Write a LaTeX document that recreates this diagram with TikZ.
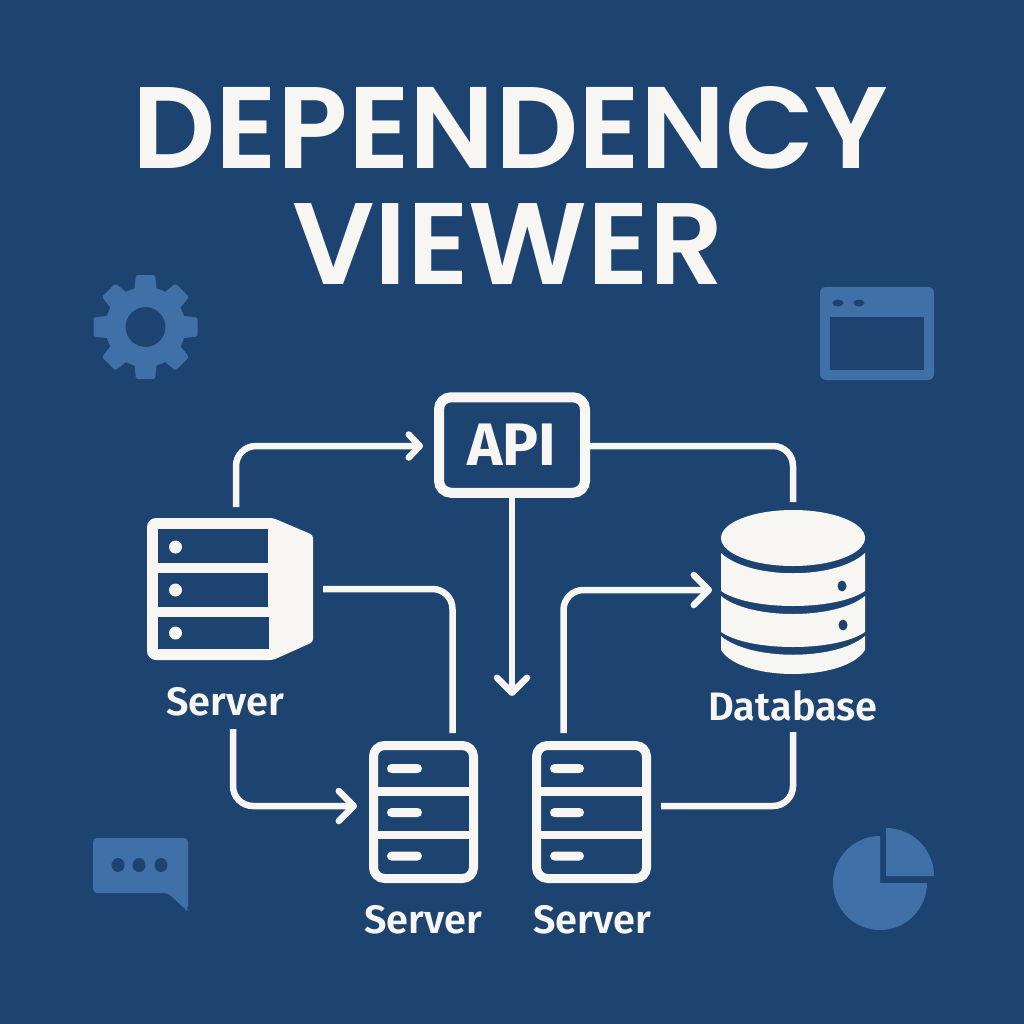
\documentclass[tikz,border=0pt]{standalone}
\usepackage{fontspec}
\usetikzlibrary{arrows.meta}
\newfontfamily\titlefont{Poppins SemiBold}
\newfontfamily\labelfont{Fira Sans SemiBold}
\newfontfamily\apifont{Fira Sans Bold}
\definecolor{bgblue}{HTML}{1D4370}
\definecolor{ink}{HTML}{F8F6F2}
\definecolor{icon}{HTML}{3F70A8}
\tikzset{
  wire/.style={draw=ink,line width=6.5pt,rounded corners=20pt,line cap=butt},
  tip/.style={-{Straight Barb[length=15pt,width=30pt,line width=6.5pt,round]}},
  tipsmall/.style={-{Straight Barb[length=11pt,width=23pt,line width=6.5pt,round]}},
  hit/.style={inner sep=0pt,outer sep=0pt,rectangle},
  lbl/.style={text=ink,font=\labelfont\fontsize{39.7}{40}\selectfont,inner sep=0pt,outer sep=0pt,text height=28pt,text depth=0pt},
  ttl/.style={text=ink,font=\titlefont\fontsize{116}{116}\selectfont,inner sep=0pt},
  pill/.style={fill=ink,rounded corners=4.5pt},
  slot/.style={fill=bgblue},
}
\begin{document}
\begin{tikzpicture}[x=1pt,y=1pt,yscale=-1]
\useasboundingbox (0,0) rectangle (1024,1024);
\fill[bgblue] (0,0) rectangle (1024,1024);
% title
\node[ttl] (t1) at (510.5,128) {DEPENDENCY};
\node[ttl] (t2) at (508,244) {VIEWER};
% gear
\begin{scope}[shift={(145.5,327)}]
  \foreach \a in {0,45,...,315}{
    \fill[icon,rotate=\a,rounded corners=1.5pt] (-12,-30) -- (-9.5,-52) -- (9.5,-52) -- (12,-30) -- cycle;
  }
  \fill[icon,even odd rule] (0,0) circle[radius=40pt] (0,0) circle[radius=20pt];
\end{scope}
% window
\fill[icon,rounded corners=6pt] (820,287) rectangle (934,380);
\fill[bgblue] (830,317) rectangle (924,370);
\fill[bgblue] (838,303) ellipse[x radius=5.5pt,y radius=3.5pt];
\fill[bgblue] (859,303) ellipse[x radius=5.5pt,y radius=3.5pt];
% chat
\fill[icon,rounded corners=4pt] (93,838) -- (188,838) -- (188,910) -- (186,910) -- (168,893) -- (93,893) -- cycle;
\foreach \x in {118,139,161}{\fill[bgblue] (\x,865) ellipse[x radius=6.5pt,y radius=7pt];}
% pie
\fill[icon] (880,883) -- (880,836) arc[start angle=-90,end angle=-360,radius=47pt] -- cycle;
\fill[icon] (886,876) -- (886,828) arc[start angle=-90,end angle=0,radius=48pt] -- cycle;
% API
\node[draw=ink,line width=10pt,rounded corners=12pt,minimum width=146pt,minimum height=95.5pt,inner sep=0pt,outer sep=5pt,text=ink,font=\apifont\fontsize{60}{60}\selectfont] (api) at (512,445) {API};
% server 1
\node[hit,minimum width=172pt,minimum height=142pt] (srv1) at (233,589) {};
\fill[ink,rounded corners=9pt] (147,589) -- (147,518) [rounded corners=3pt] -- (273,518) -- (313,535) -- (313,642) -- (273,660) [rounded corners=9pt] -- (147,660) -- cycle;
\fill[slot] (158,529) rectangle (268,563);
\fill[slot] (158,573) rectangle (268,607);
\fill[slot] (158,617) rectangle (269,649);
\foreach \y in {547,590,633}{\fill[ink] (175.5,\y) circle[radius=6.5pt];}
\node[lbl] (lbl1) at (225,701) {Server};
% database
\node[hit,minimum width=144pt,minimum height=164pt] (db) at (793,592) {};
\fill[ink] (721,553) .. controls (750,580) and (836,580) .. (865,553) -- (865,591) .. controls (836,611) and (750,611) .. (721,591) -- cycle;
\fill[ink] (721,596) .. controls (750,620) and (836,620) .. (865,596) -- (865,632) .. controls (836,652) and (750,652) .. (721,632) -- cycle;
\fill[ink] (721,636) .. controls (750,661) and (836,661) .. (865,636) -- (865,650) .. controls (845,682) and (741,682) .. (721,650) -- cycle;
\fill[ink] (793,538) ellipse[x radius=72pt,y radius=28pt];
\fill[bgblue] (842,586) ellipse[x radius=4.5pt,y radius=5.5pt];
\fill[bgblue] (843,625) ellipse[x radius=4.5pt,y radius=5.5pt];
\node[lbl] (lbldb) at (793,706) {Database};
% lower servers
\node[hit,minimum width=109pt,minimum height=142pt] (srvA) at (423.5,812) {};
\node[hit,minimum width=119pt,minimum height=142pt] (srvB) at (591.5,812) {};
\draw[ink,line width=9pt,rounded corners=11pt] (373.5,745.5) rectangle (473.5,878.5);
\draw[ink,line width=9pt,rounded corners=11pt] (536.5,745.5) rectangle (646.5,878.5);
\fill[ink] (375,787) rectangle (472,796);
\fill[ink] (375,831) rectangle (472,838.5);
\fill[ink] (538,787) rectangle (645,796);
\fill[ink] (538,831) rectangle (645,838.5);
\foreach \y in {768.5,812.5,856}{
  \fill[pill] (387,\y-4.5) rectangle (422,\y+4.5);
  \fill[pill] (550,\y-4.5) rectangle (584,\y+4.5);
}
\node[lbl] (lbl2) at (423,919.5) {Server};
\node[lbl] (lbl3) at (592,919.5) {Server};
% connectors
\coordinate (gap) at (512,696);
\draw[wire,tipsmall,shorten <=11pt,shorten >=11pt] ([xshift=3pt]srv1.north) |- ([yshift=1pt]api.west);
\draw[wire,shorten >=8pt] ([yshift=1pt]api.east) -| (db.north);
\draw[wire,tip] (api.south) -- (gap);
\draw[wire,tip,shorten <=8pt,shorten >=9pt] ([xshift=-28pt]srvB.north) |- ([yshift=-2pt]db.west);
\draw[wire,shorten <=4pt,shorten >=8pt] (srv1.east) -| ([xshift=29pt]srvA.north);
\draw[wire,tip,shorten <=14pt,shorten >=12pt] ([xshift=8pt]lbl1.south) |- ([yshift=-6pt]srvA.west);
\draw[wire,shorten <=12pt,shorten >=10pt] (lbldb.south) |- ([yshift=-6pt]srvB.east);
\end{tikzpicture}
\end{document}
